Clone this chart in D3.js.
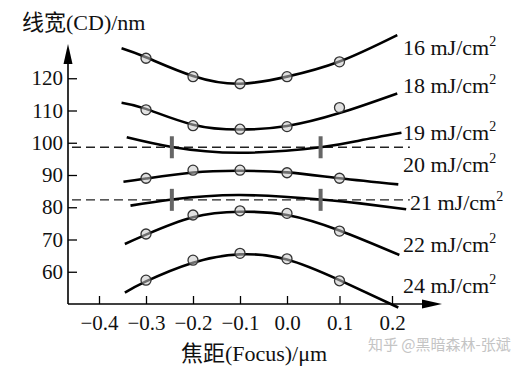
<!DOCTYPE html>
<html>
<head>
<meta charset="utf-8">
<script src="https://cdn.jsdelivr.net/npm/d3@7"></script>
<style>
  body { margin: 0; background: #fff; }
  svg { display: block; }
  text { font-family: "Liberation Serif", "Noto Sans CJK SC", serif; fill: #111; }
</style>
</head>
<body>
<div id="myPlot"></div>
<script>
// axis ticks
const focusTicks = [-0.4, -0.3, -0.2, -0.1, 0.0, 0.1, 0.2]
const cdTicks = [60, 70, 80, 90, 100, 110, 120]

// exposure doses (mJ/cm2), top to bottom
const doses = [16, 18, 19, 20, 21, 22, 24]

// measured points
const measuredFocus = [-0.3, -0.2, -0.1, 0.0, 0.1]
const cd16 = [126.2, 120.5, 118.3, 120.5, 125.1]
const cd18 = [110.2, 105.3, 104.2, 105.0, 110.9]
const cd20 = [89.0, 91.5, 91.5, 90.7, 89.0]
const cd22 = [71.7, 77.6, 78.9, 78.1, 72.6]
const cd24 = [57.4, 63.6, 65.7, 64.0, 57.2]

// fitted curves, [focus, CD]
const fit16 = [[-0.352, 129.3], [-0.3, 126.5], [-0.2, 120.7], [-0.1, 118.3], [0.0, 120.5], [0.1, 125.2], [0.21, 133.4]]
const fit18 = [[-0.352, 112.4], [-0.3, 110.5], [-0.2, 105.6], [-0.1, 104.1], [0.0, 105.2], [0.1, 109.2], [0.21, 115.3]]
const fit19 = [[-0.341, 101.7], [-0.245, 98.7], [-0.1, 96.9], [0.064, 98.6], [0.139, 100.7], [0.218, 103.1]]
const fit20 = [[-0.348, 87.9], [-0.3, 88.9], [-0.2, 90.8], [-0.1, 91.3], [0.0, 90.8], [0.1, 89.0], [0.212, 87.1]]
const fit21 = [[-0.333, 80.5], [-0.245, 82.4], [-0.1, 83.8], [0.064, 82.4], [0.139, 81.2], [0.227, 79.4]]
const fit22 = [[-0.345, 68.6], [-0.3, 71.5], [-0.2, 76.9], [-0.1, 78.6], [0.0, 77.6], [0.1, 72.8], [0.214, 65.2]]
const fit24 = [[-0.345, 53.5], [-0.3, 57.0], [-0.2, 62.8], [-0.1, 65.4], [0.0, 63.8], [0.1, 57.4], [0.212, 48.9]]

// CD limits (dashed) and focus window (grey markers)
const cdLimits = [98.6, 82.3]
const windowFocus = [-0.245, 0.064]
const limitEndFocus = 0.234

const width = 529
const height = 368
const labelBaselines = [55, 93, 140, 172, 210, 252, 293]

const svg = d3.select("#myPlot").append("svg")
    .attr("width", width)
    .attr("height", height)

// the scan is slightly stretched on the right, hence the piecewise range
const x = d3.scaleLinear().domain([-0.4, 0, 0.2]).range([99, 287, 392])
const y = d3.scaleLinear().domain([50, 130]).range([304, 46])

const axisX0 = 68
const axisY0 = 304

// dashed CD limits
svg.append("g").selectAll("line")
    .data(cdLimits)
    .join("line")
    .attr("x1", axisX0 + 4)
    .attr("x2", x(limitEndFocus))
    .attr("y1", d => y(d))
    .attr("y2", d => y(d))
    .attr("stroke", "#222")
    .attr("stroke-width", 1.3)
    .attr("stroke-dasharray", "9,5")

// fitted curves
const line = d3.line()
    .x(d => x(d[0]))
    .y(d => y(d[1]))
    .curve(d3.curveNatural)

svg.append("g").selectAll("path")
    .data([fit16, fit18, fit19, fit20, fit21, fit22, fit24])
    .join("path")
    .attr("d", line)
    .attr("fill", "none")
    .attr("stroke", "#000")
    .attr("stroke-width", 2.6)

// grey markers of the focus window
const markers = cdLimits.flatMap(cd => windowFocus.map(f => [f, cd]))
svg.append("g").selectAll("line")
    .data(markers)
    .join("line")
    .attr("x1", d => x(d[0]))
    .attr("x2", d => x(d[0]))
    .attr("y1", d => y(d[1]) - 11)
    .attr("y2", d => y(d[1]) + 11)
    .attr("stroke", "#666")
    .attr("stroke-width", 4)

// measured circles
const measured = [cd16, cd18, cd20, cd22, cd24]
    .flatMap(series => series.map((cd, i) => [measuredFocus[i], cd]))
svg.append("g").selectAll("circle")
    .data(measured)
    .join("circle")
    .attr("cx", d => x(d[0]))
    .attr("cy", d => y(d[1]))
    .attr("r", 5)
    .attr("fill", "#c8c8c8")
    .attr("fill-opacity", 0.55)
    .attr("stroke", "#333")
    .attr("stroke-width", 1.3)

// axes
const yAxis = d3.axisLeft(y)
    .tickValues(cdTicks)
    .tickSizeInner(-9)
    .tickSizeOuter(0)
    .tickPadding(5)

const xAxis = d3.axisBottom(x)
    .tickValues(focusTicks)
    .tickFormat(d3.format(".1f"))
    .tickSizeInner(-8)
    .tickSizeOuter(0)
    .tickPadding(11)

const yAxisG = svg.append("g")
    .attr("transform", `translate(${axisX0},0)`)
    .call(yAxis)

const xAxisG = svg.append("g")
    .attr("transform", `translate(0,${axisY0})`)
    .call(xAxis)

for (const g of [yAxisG, xAxisG]) {
    g.select(".domain").remove()
    g.selectAll(".tick line").attr("stroke", "#000").attr("stroke-width", 1.3)
    g.selectAll(".tick text")
        .attr("font-family", "Liberation Serif, serif")
        .attr("font-size", 21)
        .attr("fill", "#111")
}

// axis lines with arrows
svg.append("line")
    .attr("x1", axisX0).attr("x2", axisX0)
    .attr("y1", axisY0).attr("y2", 62)
    .attr("stroke", "#000").attr("stroke-width", 1.6)
svg.append("line")
    .attr("x1", axisX0).attr("x2", 424)
    .attr("y1", axisY0).attr("y2", axisY0)
    .attr("stroke", "#000").attr("stroke-width", 1.6)
svg.append("path")
    .attr("d", `M${axisX0},44 L${axisX0 - 4.5},64 L${axisX0 + 4.5},64 Z`)
    .attr("fill", "#000")
svg.append("path")
    .attr("d", `M442,${axisY0} L422,${axisY0 - 4.5} L422,${axisY0 + 4.5} Z`)
    .attr("fill", "#000")

// dose labels
const labels = svg.append("g").selectAll("text")
    .data(doses)
    .join("text")
    .attr("x", d => d === 21 ? 410 : 403)
    .attr("y", (d, i) => labelBaselines[i])
    .attr("font-size", 22)
labels.append("tspan").text(d => `${d} mJ/cm`)
labels.append("tspan").text("2").attr("font-size", 14).attr("dy", -9)

// titles
svg.append("text")
    .attr("x", 22)
    .attr("y", 30)
    .attr("font-size", 22)
    .text("线宽(CD)/nm")

svg.append("text")
    .attr("x", 254)
    .attr("y", 361)
    .attr("text-anchor", "middle")
    .attr("font-size", 22)
    .text("焦距(Focus)/μm")

// watermark
svg.append("text")
    .attr("x", 368)
    .attr("y", 350)
    .attr("font-size", 15)
    .style("font-family", "Noto Sans CJK SC, sans-serif")
    .style("fill", "#c4c4c4")
    .text("知乎 @黑暗森林-张斌")
</script>
</body>
</html>
